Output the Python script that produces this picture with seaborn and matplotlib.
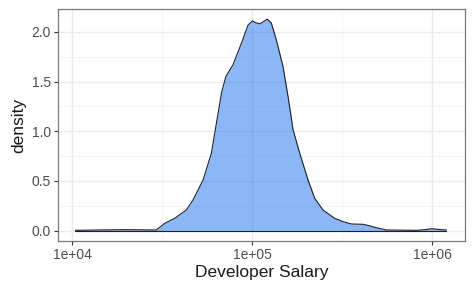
import numpy as np
import pandas as pd
import matplotlib
matplotlib.use("Agg")
import matplotlib.pyplot as plt
import seaborn as sns
from matplotlib.ticker import FixedLocator, FixedFormatter, NullFormatter

# log10(salary) positions of the density curve, and density values
log_salary = [4.019, 4.154, 4.30, 4.45, 4.468, 4.515, 4.57, 4.635, 4.672, 4.728, 4.774,
              4.802, 4.83, 4.854, 4.894, 4.941, 4.978, 5.002, 5.018, 5.043, 5.085,
              5.107, 5.135, 5.172, 5.2, 5.228, 5.265, 5.311, 5.348, 5.394, 5.459,
              5.505, 5.552, 5.617, 5.65, 5.69, 5.746, 5.913, 5.97, 6.0, 6.04, 6.08]
density = [0.003, 0.007, 0.010, 0.007, 0.007, 0.074, 0.124, 0.208, 0.309, 0.51, 0.779,
           1.081, 1.383, 1.55, 1.668, 1.886, 2.07, 2.11, 2.094, 2.08, 2.128,
           2.088, 1.92, 1.651, 1.349, 1.014, 0.779, 0.51, 0.326, 0.208, 0.124,
           0.091, 0.067, 0.064, 0.05, 0.03, 0.007, 0.003, 0.012, 0.02, 0.012, 0.007]

x_ticks = [1e4, 1e5, 1e6]
x_tick_labels = ["1e+04", "1e+05", "1e+06"]
y_ticks = [0.0, 0.5, 1.0, 1.5, 2.0]
y_tick_labels = ["0.0", "0.5", "1.0", "1.5", "2.0"]

df = pd.DataFrame({"salary": np.power(10.0, log_salary), "density": density})

sns.set_theme(style="white")
plt.rcParams["font.family"] = ["Liberation Sans", "DejaVu Sans"]

fig = plt.figure(figsize=(4.74, 2.92), dpi=100)
ax = fig.add_axes([58 / 474, 1 - 241 / 292, (465 - 58) / 474, (241 - 9) / 292])
ax.set_xscale("log")

ax.fill_between(df["salary"], df["density"], 0, color="#1971F1", alpha=0.5,
                linewidth=0, zorder=2)
sns.lineplot(data=df, x="salary", y="density", ax=ax, color="#1b1f2e",
             linewidth=0.8, zorder=3, estimator=None, sort=False)
ax.plot([df["salary"].iloc[0], df["salary"].iloc[-1]], [0, 0], color="#1b1f2e",
        linewidth=0.8, zorder=3)

ax.set_xlim(10 ** 3.922, 10 ** 6.183)
ax.set_ylim(-0.104, 2.23)

ax.xaxis.set_major_locator(FixedLocator(x_ticks))
ax.xaxis.set_major_formatter(FixedFormatter(x_tick_labels))
ax.xaxis.set_minor_locator(FixedLocator([10 ** 4.5, 10 ** 5.5]))
ax.xaxis.set_minor_formatter(NullFormatter())
ax.yaxis.set_major_locator(FixedLocator(y_ticks))
ax.yaxis.set_major_formatter(FixedFormatter(y_tick_labels))
ax.yaxis.set_minor_locator(FixedLocator([0.25, 0.75, 1.25, 1.75]))

ax.grid(which="major", color="#EBEBEB", linewidth=1.0, zorder=0)
ax.grid(which="minor", color="#F2F2F2", linewidth=0.5, zorder=0)
ax.set_axisbelow(True)

for s in ax.spines.values():
    s.set_color("#7a7a7a")
    s.set_linewidth(0.9)
    s.set_visible(True)

ax.tick_params(axis="both", which="major", direction="out", length=3, width=0.8,
               color="#333333", labelcolor="#4D4D4D", labelsize=10, pad=2)
ax.tick_params(axis="both", which="minor", length=0)
ax.tick_params(axis="x", bottom=True)
ax.tick_params(axis="y", left=True)

ax.set_xlabel("Developer Salary", fontsize=12.5, color="#1a1a1a", labelpad=2)
ax.set_ylabel("density", fontsize=12.5, color="#1a1a1a", labelpad=4)

fig.savefig("out.png", dpi=100)
